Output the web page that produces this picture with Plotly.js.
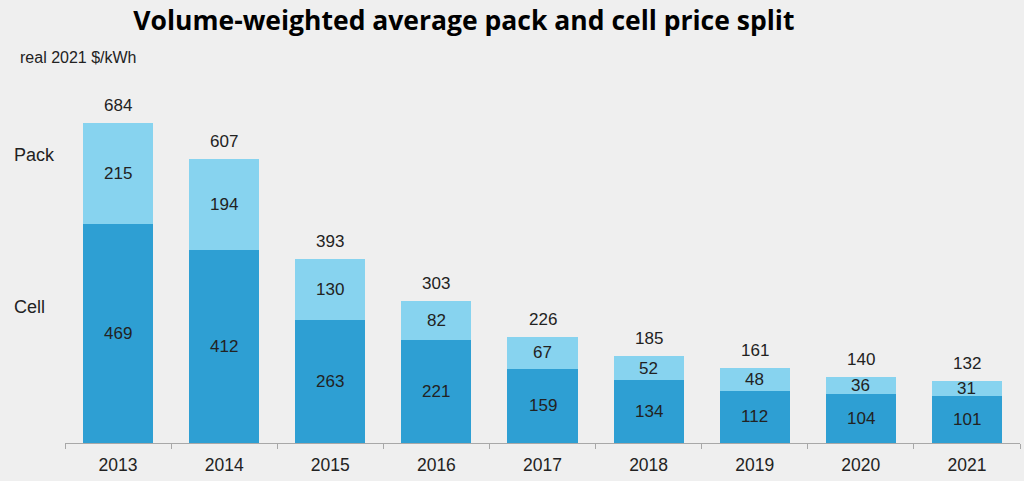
<!DOCTYPE html>
<html>
<head>
<meta charset="utf-8">
<script src="https://cdn.plot.ly/plotly-3.0.1.min.js"></script>
<style>
  html, body { margin: 0; padding: 0; background: #efefef; }
  #chart { width: 1024px; height: 481px; }
</style>
</head>
<body>
<div id="chart"></div>
<script>
// Volume-weighted average battery prices, real 2021 $/kWh
const years = ['2013', '2014', '2015', '2016', '2017', '2018', '2019', '2020', '2021'];
const cellPrice = [469, 412, 263, 221, 159, 134, 112, 104, 101];
const packPrice = [215, 194, 130, 82, 67, 52, 48, 36, 31];
const totalPrice = [684, 607, 393, 303, 226, 185, 161, 140, 132];

const cellColor = '#2e9fd3';
const packColor = '#87d3ef';
const textColor = '#222222';
const fontFamily = 'Liberation Sans, Arial, sans-serif';
const labelFont = { family: fontFamily, size: 17, color: textColor };

const traces = [
  { type: 'bar', name: 'Cell', x: years, y: cellPrice, marker: { color: cellColor }, hoverinfo: 'skip' },
  { type: 'bar', name: 'Pack', x: years, y: packPrice, marker: { color: packColor }, hoverinfo: 'skip' }
];

// On a category axis, annotation x is the category's serial number
const annotations = [];
years.forEach((yr, i) => {
  // segment values, centred in each segment
  annotations.push({ x: i, y: cellPrice[i] / 2, xref: 'x', yref: 'y', text: String(cellPrice[i]),
    showarrow: false, font: labelFont });
  annotations.push({ x: i, y: cellPrice[i] + packPrice[i] / 2, xref: 'x', yref: 'y', text: String(packPrice[i]),
    showarrow: false, font: labelFont });
  // total above the stack
  annotations.push({ x: i, y: totalPrice[i], xref: 'x', yref: 'y', text: String(totalPrice[i]),
    showarrow: false, yanchor: 'bottom', yshift: 6, font: labelFont });
});

// unit note and segment names on the left
annotations.push({ xref: 'paper', yref: 'paper', x: -0.049, y: 1.097, xanchor: 'left', yanchor: 'middle',
  text: 'real 2021 $/kWh', showarrow: false, font: { family: fontFamily, size: 16, color: textColor } });
annotations.push({ xref: 'paper', yref: 'paper', x: -0.055, y: 0.82, xanchor: 'left', yanchor: 'middle',
  text: 'Pack', showarrow: false, font: { family: fontFamily, size: 18, color: textColor } });
annotations.push({ xref: 'paper', yref: 'paper', x: -0.055, y: 0.387, xanchor: 'left', yanchor: 'middle',
  text: 'Cell', showarrow: false, font: { family: fontFamily, size: 18, color: textColor } });

const layout = {
  width: 1024,
  height: 481,
  paper_bgcolor: '#efefef',
  plot_bgcolor: '#efefef',
  margin: { l: 65, r: 4, t: 92, b: 38 },
  barmode: 'stack',
  bargap: 0.34,
  showlegend: false,
  title: {
    text: '<b>Volume-weighted average pack and cell price split</b>',
    x: 0.453, xanchor: 'center',
    y: 0.957, yanchor: 'middle',
    font: { family: 'Open Sans, sans-serif', size: 26.5, color: '#000000' }
  },
  xaxis: {
    type: 'category',
    range: [-0.5, years.length - 0.5],
    showline: true, linecolor: '#a8a8a8', linewidth: 1,
    ticks: 'outside', tickson: 'boundaries', ticklen: 5, tickcolor: '#a8a8a8',
    ticklabelstandoff: 6,
    tickfont: { family: fontFamily, size: 17.5, color: textColor },
    showgrid: false, zeroline: false, fixedrange: true
  },
  yaxis: {
    range: [0, 750],
    visible: false, showgrid: false, zeroline: false, fixedrange: true
  },
  annotations: annotations
};

Plotly.newPlot('chart', traces, layout, { displayModeBar: false, staticPlot: true });
</script>
</body>
</html>
